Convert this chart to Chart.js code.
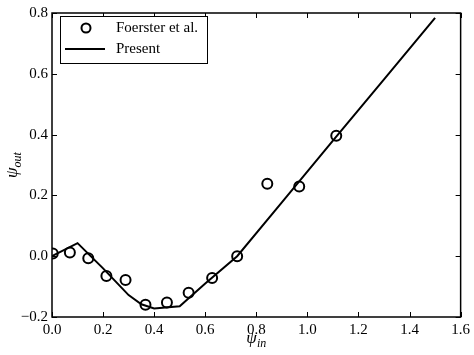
<!DOCTYPE html>
<html>
<head>
<meta charset="utf-8">
<script src="https://cdn.jsdelivr.net/npm/chart.js@4"></script>
<style>
  html, body { margin: 0; padding: 0; background: #fff; }
  #wrap { width: 474px; height: 355px; }
</style>
</head>
<body>
<div id="wrap"><canvas id="chart"></canvas></div>
<script>
// Foerster et al. (circles)
const foersterX = [0.003, 0.07, 0.142, 0.213, 0.288, 0.366, 0.45, 0.535, 0.627, 0.725, 0.843, 0.968, 1.113];
const foersterY = [0.009, 0.012, -0.007, -0.065, -0.078, -0.16, -0.152, -0.12, -0.072, 0.0, 0.238, 0.229, 0.396];

// Present (line)
const presentX = [0.0, 0.1, 0.2, 0.3, 0.35, 0.4, 0.5, 0.6, 0.725, 0.9, 1.1, 1.3, 1.5];
const presentY = [0.0, 0.043, -0.04, -0.128, -0.158, -0.172, -0.165, -0.09, 0.0, 0.177, 0.38, 0.582, 0.784];

const xTicks = [0.0, 0.2, 0.4, 0.6, 0.8, 1.0, 1.2, 1.4, 1.6];
const yTicks = [-0.2, 0.0, 0.2, 0.4, 0.6, 0.8];

const FONT = '"Liberation Serif", "DejaVu Serif", serif';

const pts = (xs, ys) => xs.map((x, i) => ({ x, y: ys[i] }));

// inward ticks on all four sides + frame
const frame = {
  id: 'frame',
  afterDraw(chart) {
    const { ctx, chartArea: a, scales: { x, y } } = chart;
    ctx.save();
    ctx.strokeStyle = '#000';
    ctx.lineWidth = 1;
    ctx.beginPath();
    xTicks.forEach(v => {
      const px = Math.round(x.getPixelForValue(v)) + 0.5;
      ctx.moveTo(px, a.bottom); ctx.lineTo(px, a.bottom - 5);
      ctx.moveTo(px, a.top); ctx.lineTo(px, a.top + 5);
    });
    yTicks.forEach(v => {
      const py = Math.round(y.getPixelForValue(v)) + 0.5;
      ctx.moveTo(a.left, py); ctx.lineTo(a.left + 5, py);
      ctx.moveTo(a.right, py); ctx.lineTo(a.right - 5, py);
    });
    ctx.stroke();
    ctx.lineWidth = 1.5;
    ctx.strokeRect(a.left, a.top, a.right - a.left, a.bottom - a.top);

    // axis titles
    ctx.fillStyle = '#000';
    ctx.textBaseline = 'alphabetic';
    ctx.font = 'italic 17px ' + FONT;
    const psiW = ctx.measureText('ψ').width;
    ctx.font = 'italic 12px ' + FONT;
    const inW = ctx.measureText('in').width;
    let cx = (a.left + a.right) / 2 - (psiW + inW) / 2;
    ctx.font = 'italic 17px ' + FONT;
    ctx.fillText('ψ', cx, 343);
    ctx.font = 'italic 12px ' + FONT;
    ctx.fillText('in', cx + psiW, 347);

    ctx.save();
    ctx.translate(17, (a.top + a.bottom) / 2);
    ctx.rotate(-Math.PI / 2);
    ctx.font = 'italic 12px ' + FONT;
    const outW = ctx.measureText('out').width;
    ctx.font = 'italic 17px ' + FONT;
    cx = -(psiW + outW) / 2;
    ctx.fillText('ψ', cx, 0);
    ctx.font = 'italic 12px ' + FONT;
    ctx.fillText('out', cx + psiW, 4);
    ctx.restore();

    // legend
    const lx = 60, ly = 16, lw = 147, lh = 47;
    ctx.fillStyle = '#fff';
    ctx.fillRect(lx, ly, lw, lh);
    ctx.lineWidth = 1;
    ctx.strokeRect(lx + 0.5, ly + 0.5, lw, lh);
    ctx.lineWidth = 2;
    ctx.beginPath();
    ctx.arc(86, 28, 4.5, 0, Math.PI * 2);
    ctx.stroke();
    ctx.beginPath();
    ctx.moveTo(65, 49); ctx.lineTo(105, 49);
    ctx.stroke();
    ctx.fillStyle = '#000';
    ctx.font = '15px ' + FONT;
    ctx.textBaseline = 'middle';
    ctx.fillText(chart.data.datasets[0].label, 116, 28);
    ctx.fillText(chart.data.datasets[1].label, 116, 49);
    ctx.restore();
  }
};

new Chart(document.getElementById('chart'), {
  type: 'scatter',
  data: {
    datasets: [
      {
        label: 'Foerster et al.',
        data: pts(foersterX, foersterY),
        showLine: false,
        pointRadius: 5,
        pointBorderWidth: 2,
        pointBorderColor: '#000',
        pointBackgroundColor: 'rgba(0,0,0,0)'
      },
      {
        label: 'Present',
        data: pts(presentX, presentY),
        showLine: true,
        borderColor: '#000',
        borderWidth: 2,
        pointRadius: 0,
        tension: 0
      }
    ]
  },
  options: {
    responsive: true,
    maintainAspectRatio: false,
    animation: false,
    layout: { padding: { top: 9, right: 12, left: 0, bottom: 0 } },
    plugins: { legend: { display: false }, tooltip: { enabled: false } },
    scales: {
      x: {
        type: 'linear', min: 0, max: 1.6,
        afterFit: s => { s.height = 38; },
        afterBuildTicks: s => { s.ticks = xTicks.map(v => ({ value: v })); },
        grid: { display: false, drawTicks: false },
        border: { display: false },
        ticks: {
          padding: 4, color: '#000', font: { family: FONT, size: 15 },
          callback: v => v.toFixed(1)
        }
      },
      y: {
        type: 'linear', min: -0.2, max: 0.8,
        afterFit: s => { s.width = 52; },
        afterBuildTicks: s => { s.ticks = yTicks.map(v => ({ value: v })); },
        grid: { display: false, drawTicks: false },
        border: { display: false },
        ticks: {
          padding: 4, color: '#000', font: { family: FONT, size: 15 },
          callback: v => (v < 0 ? '\u2212' : '') + Math.abs(v).toFixed(1)
        }
      }
    }
  },
  plugins: [frame]
});
</script>
</body>
</html>
